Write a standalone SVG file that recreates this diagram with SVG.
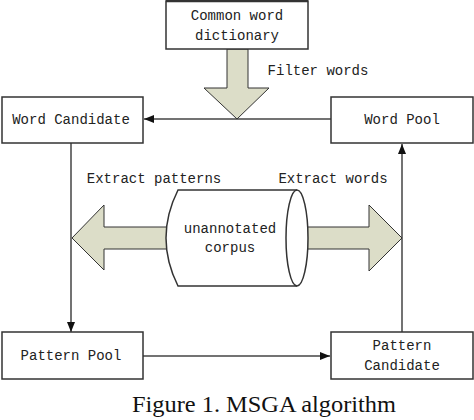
<svg xmlns="http://www.w3.org/2000/svg" width="474" height="420" viewBox="0 0 474 420">
<defs>
<style>
.box{fill:#fff;stroke:#333;stroke-width:1.5}
.big{fill:#dcddc8;stroke:#333;stroke-width:1}
.t{font-family:"Liberation Mono",monospace;font-size:14px;fill:#222;text-anchor:middle}
.ln{fill:none;stroke:#444;stroke-width:1.5}
.cap{font-family:"Liberation Serif",serif;font-size:24px;fill:#111;text-anchor:middle}
</style>
<marker id="ah" markerWidth="10" markerHeight="8" refX="10" refY="4" orient="auto" markerUnits="userSpaceOnUse">
<path d="M0,0 L10,4 L0,8 Z" fill="#111"/>
</marker>
</defs>
<rect width="474" height="420" fill="#fff"/>
<g id="connectors">
<line class="ln" x1="331" y1="119" x2="144" y2="119" marker-end="url(#ah)"/>
<line class="ln" x1="71" y1="143" x2="71" y2="332" marker-end="url(#ah)"/>
<line class="ln" x1="143" y1="356" x2="330" y2="356" marker-end="url(#ah)"/>
<line class="ln" x1="402" y1="332" x2="402" y2="144" marker-end="url(#ah)"/>
<path class="big" d="M227,49 L248,49 L248,88 L269,88 L237,119 L204,88 L227,88 Z"/>
<path class="big" d="M167,227 L104,227 L104,205 L72,238 L104,270 L104,249 L167,249 Z"/>
<path class="big" d="M307,227 L369,227 L369,205 L402,238 L369,271 L369,249 L307,249 Z"/>
<text class="t" x="318" y="75">Filter words</text>
<text class="t" x="154" y="183">Extract patterns</text>
<text class="t" x="333" y="183">Extract words</text>
</g>
<g id="dictionary">
<rect class="box" x="166" y="1" width="142" height="48"/>
<line x1="166" y1="1" x2="308" y2="1" stroke="#333" stroke-width="2.5"/>
<text class="t" x="237" y="20">Common word</text>
<text class="t" x="237" y="40">dictionary</text>
</g>
<g id="word-candidate">
<rect class="box" x="2" y="97" width="141" height="46"/>
<text class="t" x="71" y="124">Word Candidate</text>
</g>
<g id="word-pool">
<rect class="box" x="331" y="97" width="142" height="46"/>
<text class="t" x="402" y="124">Word Pool</text>
</g>
<g id="corpus">
<path class="box" d="M178,190 L297,190 A11,48 0 0 1 297,286 L178,286 Q154,238 178,190 Z"/>
<path fill="none" stroke="#333" stroke-width="1.5" d="M297,190 A11,48 0 0 0 297,286"/>
<text class="t" x="230" y="233">unannotated</text>
<text class="t" x="230" y="252">corpus</text>
</g>
<g id="pattern-pool">
<rect class="box" x="2" y="332" width="141" height="47"/>
<text class="t" x="71" y="360">Pattern Pool</text>
</g>
<g id="pattern-candidate">
<rect class="box" x="331" y="332" width="142" height="47"/>
<text class="t" x="402" y="350">Pattern</text>
<text class="t" x="402" y="370">Candidate</text>
</g>
<text class="cap" x="264" y="412" textLength="264" lengthAdjust="spacingAndGlyphs">Figure 1. MSGA algorithm</text>
</svg>
